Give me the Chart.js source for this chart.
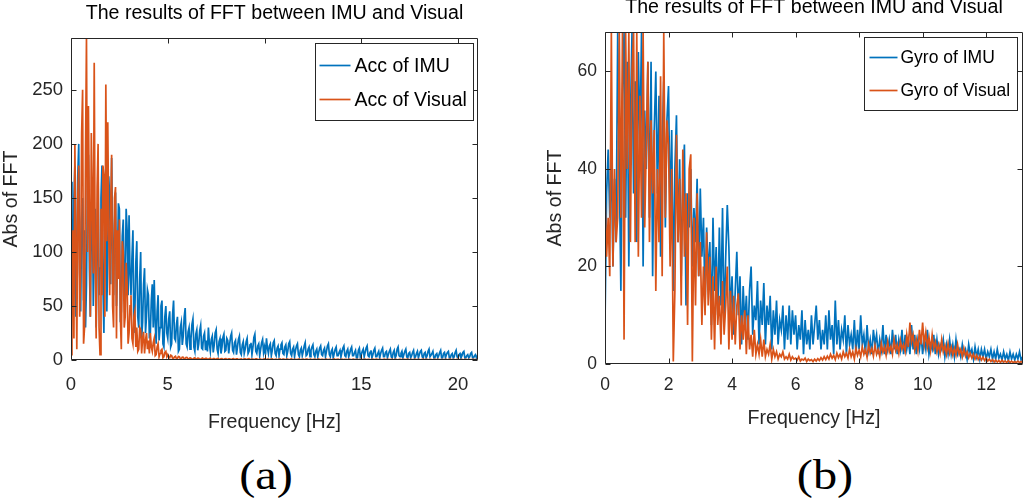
<!DOCTYPE html>
<html>
<head>
<meta charset="utf-8">
<script src="https://cdn.jsdelivr.net/npm/chart.js@4/dist/chart.umd.min.js"></script>
<style>
html,body{margin:0;padding:0;background:#fff;width:1025px;height:504px;overflow:hidden;}
#wrapA{position:absolute;left:0;top:0;width:512px;height:445px;}
#wrapB{position:absolute;left:530px;top:0;width:495px;height:445px;}
.cap{position:absolute;font-family:"Liberation Serif","Times New Roman",serif;font-size:42px;line-height:42px;color:#000;white-space:nowrap;transform:translateX(-50%) scaleX(1.15);}
</style>
</head>
<body>
<div id="wrapA"><canvas id="chartA" width="512" height="445"></canvas></div>
<div id="wrapB"><canvas id="chartB" width="495" height="445"></canvas></div>
<div class="cap" style="left:266px;top:454px">(a)</div>
<div class="cap" style="left:825px;top:454px">(b)</div>
<script>
// ---------- Data ----------
const titleText = 'The results of FFT between IMU and Visual';
const xTitleText = 'Frequency [Hz]';
const yTitleText = 'Abs of FFT';

const accLabels = ['Acc of IMU', 'Acc of Visual'];
const gyroLabels = ['Gyro of IMU', 'Gyro of Visual'];

// frequency bin spacing of each spectrum [Hz]
const accFreqStep = 0.05;
const gyroFreqStep = 0.05;

const accXTicks = [0, 5, 10, 15, 20];
const accYTicks = [0, 50, 100, 150, 200, 250];
const gyroXTicks = [0, 2, 4, 6, 8, 10, 12];
const gyroYTicks = [0, 20, 40, 60];

const accXMax = 21.03, accYMax = 298;
const gyroXMax = 13.16, gyroYMax = 68.1;

// |FFT| of accelerometer, IMU (0 .. 21 Hz, step 0.05) - one row per Hz
const accImu = [
  165, 90, 60, 150, 180, 40, 95, 170, 200, 80, 45, 130, 150, 55, 120, 30, 70, 160, 190, 85,
  40, 120, 160, 50, 110, 140, 30, 95, 175, 60, 85, 150, 180, 70, 25, 130, 165, 45, 100, 170,
  150, 70, 187, 110, 60, 125, 155, 50, 90, 145, 140, 35, 45, 115, 130, 55, 75, 140, 120, 60,
  134, 80, 60, 95, 120, 25, 45, 90, 110, 40, 30, 75, 100, 20, 35, 70, 85, 25, 40, 65,
  60, 20, 25, 55, 70, 30, 74, 35, 15, 45, 60, 18, 30, 50, 55, 15, 12, 40, 50, 25,
  20, 38, 45, 12, 15, 42, 55, 20, 18, 33, 40, 8, 10, 30, 35, 14, 22, 40, 48, 15,
  12, 26, 30, 10, 20, 33, 38, 12, 8, 24, 28, 9, 15, 27, 32, 11, 10, 22, 25, 9,
  18, 8, 30, 15, 8, 19, 22, 7, 14, 25, 28, 10, 6, 17, 20, 6, 12, 21, 24, 8,
  9, 20, 18, 6, 15, 22, 25, 9, 7, 16, 18, 5, 12, 19, 22, 7, 5, 14, 17, 6,
  10, 17, 20, 6, 8, 14, 16, 5, 12, 21, 24, 8, 6, 13, 15, 4, 10, 16, 19, 7,
  12, 5, 20, 11, 6, 13, 15, 4, 9, 16, 18, 6, 4, 11, 13, 4, 10, 14, 16, 6,
  5, 12, 14, 4, 8, 15, 17, 6, 4, 10, 12, 3, 9, 13, 15, 5, 3, 9, 11, 4,
  8, 13, 16, 4, 5, 10, 12, 3, 9, 12, 14, 5, 3, 8, 10, 3, 7, 11, 13, 5,
  4, 9, 11, 3, 8, 13, 15, 5, 3, 8, 10, 2, 6, 10, 12, 4, 4, 7, 9, 3,
  7, 11, 13, 4, 3, 8, 10, 3, 6, 10, 12, 4, 4, 7, 9, 2, 2, 9, 11, 3,
  5, 8, 10, 3, 7, 11, 13, 4, 3, 7, 9, 2, 5, 9, 11, 3, 3, 6, 8, 2,
  6, 9, 11, 3, 3, 7, 8, 2, 5, 8, 10, 3, 2, 7, 9, 2, 4, 10, 12, 4,
  3, 6, 8, 2, 5, 8, 10, 3, 2, 6, 7, 2, 4, 7, 9, 2, 3, 6, 8, 2,
  5, 8, 9, 3, 2, 6, 7, 2, 4, 8, 10, 3, 3, 6, 8, 2, 2, 5, 6, 2,
  4, 7, 9, 2, 2, 6, 7, 2, 5, 7, 8, 2, 2, 5, 6, 2, 3, 7, 9, 3,
  2, 5, 6, 2, 4, 7, 8, 2, 2, 4, 5, 2, 3, 6, 7, 2, 2, 4, 5, 2,
  4
];

// |FFT| of accelerometer, Visual (0 .. 21 Hz, step 0.05) - one row per Hz
const accVisual = [
  5, 60, 120, 20, 200, 110, 10, 150, 180, 40, 90, 210, 250, 15, 30, 190, 298, 100, 235, 130,
  40, 210, 150, 80, 275, 90, 20, 160, 200, 30, 5, 140, 60, 180, 170, 40, 255, 110, 220, 120,
  60, 140, 190, 50, 30, 150, 160, 20, 120, 75, 130, 40, 10, 110, 100, 30, 40, 90, 70, 15,
  25, 50, 60, 20, 15, 40, 45, 12, 30, 8, 10, 30, 28, 6, 20, 26, 6, 18, 25, 10,
  18, 6, 25, 12, 8, 16, 20, 4, 5, 12, 15, 3, 6, 9, 10, 2, 3, 7, 8, 3,
  5, 2.5, 2, 4.5, 4, 1.5, 1.5, 3, 3.5, 1, 1.5, 3.2, 3, 1, 1.2, 2.6, 2.5, 1, 1.5, 2.4,
  2.2, 1, 1, 2, 1.8, 0.7, 0.8, 1.6, 2, 0.8, 1, 1.7, 1.5, 0.6, 0.7, 1.5, 1.8, 0.7, 1, 1.6,
  1.5, 0.7, 0.8, 1.4, 1.6, 0.5, 0.6, 1.2, 1.2, 0.6, 0.8, 1.3, 1.4, 0.5, 0.5, 1.1, 1.2, 0.5, 0.7, 1.2,
  1.3, 0.5, 0.6, 1.1, 1, 0.4, 0.5, 1, 1.2, 0.5, 0.6, 1.1, 1, 0.4, 0.4, 0.9, 1.1, 0.4, 0.5, 1,
  1, 0.4, 0.5, 1, 1.2, 0.4, 0.4, 0.8, 0.9, 0.4, 0.5, 1, 1.1, 0.4, 0.4, 0.8, 0.8, 0.3, 0.5, 0.9,
  1, 0.4, 0.4, 0.8, 0.9, 0.4, 0.5, 0.9, 1.1, 0.3, 0.3, 0.7, 0.8, 0.3, 0.5, 0.9, 1, 0.3, 0.4, 0.8,
  0.9, 0.3, 0.4, 0.8, 0.8, 0.3, 0.3, 0.8, 1, 0.3, 0.4, 0.7, 0.7, 0.3, 0.5, 0.8, 0.9, 0.3, 0.3, 0.7,
  0.8, 0.3, 0.4, 0.8, 0.9, 0.3, 0.3, 0.6, 0.7, 0.3, 0.4, 0.7, 0.8, 0.3, 0.3, 0.7, 0.9, 0.3, 0.4, 0.7,
  0.7, 0.3, 0.3, 0.7, 0.8, 0.3, 0.4, 0.6, 0.6, 0.2, 0.3, 0.7, 0.9, 0.3, 0.4, 0.6, 0.7, 0.2, 0.3, 0.6,
  0.8, 0.3, 0.3, 0.5, 0.6, 0.3, 0.4, 0.6, 0.7, 0.2, 0.3, 0.6, 0.8, 0.3, 0.3, 0.5, 0.6, 0.2, 0.4, 0.6,
  0.7, 0.3, 0.3, 0.6, 0.8, 0.3, 0.4, 0.5, 0.6, 0.2, 0.3, 0.6, 0.7, 0.3, 0.3, 0.6, 0.8, 0.3, 0.4, 0.5,
  0.6, 0.2, 0.3, 0.6, 0.7, 0.3, 0.3, 0.5, 0.6, 0.3, 0.4, 0.6, 0.7, 0.2, 0.3, 0.5, 0.6, 0.2, 0.3, 0.5,
  0.7, 0.3, 0.3, 0.5, 0.6, 0.3, 0.4, 0.6, 0.7, 0.2, 0.3, 0.5, 0.6, 0.2, 0.3, 0.6, 0.7, 0.2, 0.3, 0.5,
  0.6, 0.2, 0.3, 0.6, 0.7, 0.3, 0.3, 0.5, 0.6, 0.2, 0.3, 0.4, 0.5, 0.2, 0.3, 0.5, 0.6, 0.3, 0.4, 0.5,
  0.6, 0.2, 0.3, 0.4, 0.5, 0.2, 0.3, 0.5, 0.6, 0.2, 0.3, 0.6, 0.7, 0.2, 0.3, 0.4, 0.5, 0.2, 0.3, 0.5,
  0.6, 0.2, 0.3, 0.4, 0.5, 0.2, 0.3, 0.5, 0.6, 0.2, 0.3, 0.4, 0.5, 0.2, 0.3, 0.5, 0.6, 0.2, 0.3, 0.4,
  0.5
];

// |FFT| of gyroscope, IMU (0 .. 13.2 Hz, step 0.05) - one row per Hz
const gyroImu = [
  8, 35, 44, 30, 42, 20, 38, 25, 68, 40, 15, 55, 68, 30, 62, 20, 50, 68, 35, 58,
  25, 64, 45, 68, 20, 52, 40, 62, 30, 62, 18, 48, 60, 35, 55, 22, 45, 58, 28, 50,
  57, 30, 48, 15, 40, 51, 25, 42, 18, 38, 45, 12, 35, 28, 40, 20, 32, 25, 38, 18,
  36, 22, 30, 12, 28, 18, 25, 8, 30, 15, 24, 10, 28, 12, 32, 8, 22, 32.6, 24, 10,
  18, 6, 15, 23, 10, 18, 4, 16, 8, 14, 5, 15, 20, 6, 12, 9, 17, 4, 13, 8,
  16.6, 4, 12, 8, 14, 3, 11, 6, 13, 4, 9, 7, 12, 3, 10, 5, 12, 4, 11, 6,
  10, 3, 8, 5, 11, 2, 9, 4, 7, 3, 10, 4, 8, 12, 5, 9, 3, 7, 4, 10,
  3, 11, 5, 8, 2, 13, 4, 9, 3, 7, 5, 10, 2, 8, 4, 6, 3, 9, 2, 7,
  3, 10, 4, 6, 2, 8, 3, 5, 2, 7, 4, 6, 2, 5, 3, 8, 2, 6, 3, 5,
  2, 7, 3, 6, 2, 5, 3, 7, 2, 6, 3, 5, 2, 8, 3, 6, 2, 5, 3, 6,
  2, 5, 3, 7, 2, 4, 3, 6, 2, 5, 2, 4, 3, 5, 1.5, 4, 2, 5, 2, 4,
  1.5, 5, 2, 3, 1.5, 4, 2, 3, 1, 4, 2, 3, 1, 3.5, 1.5, 3, 1, 3, 1.5, 3,
  1, 2.5, 1.5, 3, 1, 2.5, 1, 3, 1.2, 2, 0.8, 2.5, 1, 2, 0.7, 2.5, 1, 2, 0.8, 2,
  1, 2.5, 0.8, 1.5, 1
];

// |FFT| of gyroscope, Visual (0 .. 13.2 Hz, step 0.05) - one row per Hz
const gyroVisual = [
  35, 22, 30, 18, 68, 20, 40, 25, 30, 68, 30, 68, 5, 68, 40, 68, 25, 60, 68, 25,
  68, 22, 55, 30, 68, 28, 45, 62, 25, 50, 35, 48, 15, 40, 25, 59, 18, 68, 30, 50,
  45, 20, 40, 0.5, 15, 47, 25, 38, 12, 44, 22, 35, 8, 40, 43, 0.5, 30, 12, 35, 18,
  25, 8, 20, 10, 27, 12, 22, 5, 18, 3, 20, 8, 14, 4, 17, 6, 12, 20, 3, 15,
  5, 14, 4, 12, 14.5, 3, 10, 5, 11, 2, 10, 3, 6, 1.5, 7, 2, 4, 2, 5, 1.5,
  5, 1.5, 3, 2, 4, 1, 3, 1.5, 2.5, 1, 2, 1.5, 2.5, 1, 1.5, 1, 2, 0.8, 1.5, 1,
  1.2, 0.8, 1.5, 0.6, 1, 0.8, 1.2, 0.5, 1, 0.7, 0.9, 0.5, 1, 0.6, 1.1, 0.7, 1.3, 0.8, 1.5, 0.9,
  1.6, 1, 2, 1.2, 1.8, 0.9, 2.2, 1.3, 2, 1, 2.5, 1.5, 2.2, 1.2, 3, 1.5, 2.5, 1, 3.2, 1.8,
  2.8, 1.5, 3.5, 2, 3, 1.4, 4, 2.2, 3.2, 1.6, 3.8, 2, 3, 1.5, 4.2, 2.4, 3.5, 1.8, 4.5, 2.5,
  3.6, 2, 5, 2.8, 4, 2.2, 4.8, 3, 4, 2.5, 6, 3.5, 8.5, 4.5, 6, 3, 5, 2.8, 7, 4,
  8.5, 4, 6.5, 3.5, 5.5, 2.8, 6, 3.2, 4.5, 2.5, 4, 2.2, 5, 2.5, 3.8, 2, 4.2, 2.2, 3.5, 1.8,
  3.2, 1.8, 4, 2, 3, 1.5, 3.2, 1.6, 2.5, 1.3, 2.2, 1.2, 2, 1, 1.8, 0.9, 1.6, 0.8, 1.4, 0.7,
  1.2, 0.6, 1, 0.5, 0.9, 0.4, 0.8, 0.4, 0.7, 0.3, 0.8, 0.4, 0.6, 0.3, 0.7, 0.3, 0.6, 0.3, 0.5, 0.3,
  0.6, 0.3, 0.5, 0.3, 0.4
];

// ---------- Styling ----------
const FONT = '"Liberation Sans", Arial, Helvetica, sans-serif';
const imuColor = '#0072BD';
const visColor = '#D95319';
const axisColor = '#262626';

function toPoints(vals, step) {
  return vals.map((v, i) => ({ x: Math.round(i * step * 1000) / 1000, y: v }));
}

const matlabFrame = {
  id: 'matlabFrame',
  afterDatasetsDraw(chart, args, opts) {
    const ctx = chart.ctx;
    const a = chart.chartArea;
    const L = Math.round(a.left) + 0.5, R = Math.round(a.right) - 0.5;
    const T = Math.round(a.top) + 0.5, B = Math.round(a.bottom) - 0.5;
    const xs = chart.scales.x, ys = chart.scales.y;
    ctx.save();
    ctx.strokeStyle = axisColor;
    ctx.lineWidth = 1;
    ctx.beginPath();
    ctx.rect(L, T, R - L, B - T);
    const tl = 5;
    xs.ticks.forEach(t => {
      const px = Math.round(xs.getPixelForValue(t.value)) + 0.5;
      ctx.moveTo(px, B); ctx.lineTo(px, B - tl);
      ctx.moveTo(px, T); ctx.lineTo(px, T + tl);
    });
    ys.ticks.forEach(t => {
      const py = Math.round(ys.getPixelForValue(t.value)) + 0.5;
      ctx.moveTo(L, py); ctx.lineTo(L + tl, py);
      ctx.moveTo(R, py); ctx.lineTo(R - tl, py);
    });
    ctx.stroke();

    // title
    ctx.fillStyle = '#000';
    ctx.font = opts.titleSize + 'px ' + FONT;
    ctx.textAlign = 'center';
    ctx.textBaseline = 'middle';
    ctx.fillText(opts.title, (a.left + a.right) / 2, a.top - 24);

    // legend
    const lg = opts.legend;
    const bx = Math.round(a.right - lg.rightGap - lg.w) + 0.5;
    const by = Math.round(a.top + lg.topGap) + 0.5;
    ctx.fillStyle = '#fff';
    ctx.fillRect(bx, by, lg.w, lg.h);
    ctx.strokeStyle = axisColor;
    ctx.lineWidth = 1;
    ctx.strokeRect(bx, by, lg.w, lg.h);
    ctx.font = lg.size + 'px ' + FONT;
    ctx.textAlign = 'left';
    ctx.textBaseline = 'middle';
    chart.data.datasets.forEach((ds, i) => {
      const y = by + lg.firstY + i * lg.rowGap;
      ctx.strokeStyle = ds.borderColor;
      ctx.lineWidth = 1.7;
      ctx.beginPath();
      ctx.moveTo(bx + lg.lineX0, y);
      ctx.lineTo(bx + lg.lineX1, y);
      ctx.stroke();
      ctx.fillStyle = '#000';
      ctx.fillText(ds.label, bx + lg.textX, y + 1);
    });
    ctx.restore();
  }
};

function build(id, o) {
  return new Chart(document.getElementById(id), {
    type: 'line',
    data: {
      datasets: [
        { label: o.labels[0], data: toPoints(o.imu, o.step), borderColor: imuColor, borderWidth: 1.7,
          pointRadius: 0, tension: 0, fill: false, order: 2 },
        { label: o.labels[1], data: toPoints(o.vis, o.step), borderColor: visColor, borderWidth: 1.7,
          pointRadius: 0, tension: 0, fill: false, order: 1 }
      ]
    },
    options: {
      responsive: false,
      animation: false,
      events: [],
      parsing: false,
      normalized: true,
      layout: { padding: { left: 0, top: o.top, right: o.right, bottom: 0 } },
      plugins: {
        legend: { display: false },
        tooltip: { enabled: false },
        title: { display: false },
        matlabFrame: { title: titleText, titleSize: 19.6, legend: o.legend }
      },
      scales: {
        x: {
          type: 'linear', min: 0, max: o.xMax,
          afterBuildTicks: s => { s.ticks = o.xTicks.map(v => ({ value: v })); },
          afterFit: s => { s.height = o.xAxisH; },
          grid: { display: false, drawTicks: false },
          border: { display: false },
          ticks: { font: { family: FONT, size: o.tickSize }, color: axisColor, padding: o.xTickPad,
                   maxRotation: 0, autoSkip: false, includeBounds: false },
          title: { display: true, text: xTitleText, color: axisColor,
                   font: { family: FONT, size: 19.6, lineHeight: 1 }, padding: { top: 0, bottom: o.xTitlePad } }
        },
        y: {
          type: 'linear', min: 0, max: o.yMax,
          afterBuildTicks: s => { s.ticks = o.yTicks.map(v => ({ value: v })); },
          afterFit: s => { s.width = o.yAxisW; },
          grid: { display: false, drawTicks: false },
          border: { display: false },
          ticks: { font: { family: FONT, size: o.tickSize }, color: axisColor, padding: 8,
                   autoSkip: false, includeBounds: false },
          title: { display: true, text: yTitleText, color: axisColor,
                   font: { family: FONT, size: 19.6, lineHeight: 1 }, padding: { top: o.yTitlePad, bottom: 0 } }
        }
      }
    },
    plugins: [matlabFrame]
  });
}

build('chartA', {
  labels: accLabels, imu: accImu, vis: accVisual, step: accFreqStep,
  xMax: accXMax, yMax: accYMax, xTicks: accXTicks, yTicks: accYTicks,
  top: 38, right: 34, yAxisW: 71, xAxisH: 85, xTickPad: 14, xTitlePad: 13, yTitlePad: 2, tickSize: 18.5,
  legend: { w: 158, h: 77, rightGap: 5, topGap: 5, firstY: 22, rowGap: 34, lineX0: 4, lineX1: 35, textX: 39, size: 19.5 }
});

build('chartB', {
  labels: gyroLabels, imu: gyroImu, vis: gyroVisual, step: gyroFreqStep,
  xMax: gyroXMax, yMax: gyroYMax, xTicks: gyroXTicks, yTicks: gyroYTicks,
  top: 32, right: 2, yAxisW: 75, xAxisH: 81, xTickPad: 11, xTitlePad: 17, yTitlePad: 16, tickSize: 17.5,
  legend: { w: 153, h: 73, rightGap: 6, topGap: 5, firstY: 20, rowGap: 33, lineX0: 5, lineX1: 33, textX: 36, size: 17.5 }
});
</script>
</body>
</html>
